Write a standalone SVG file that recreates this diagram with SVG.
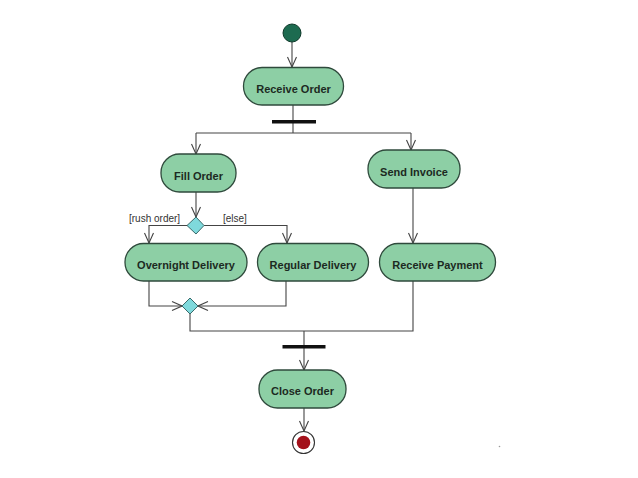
<svg xmlns="http://www.w3.org/2000/svg" width="638" height="478" viewBox="0 0 638 478">
<defs>
<style>
.act{fill:#8dcfa5;stroke:#2f4a3c;stroke-width:1.3}
.lbl{font-family:"Liberation Sans",Arial,sans-serif;font-weight:bold;font-size:11px;fill:#1c2a22;text-anchor:middle}
.grd{font-family:"Liberation Sans",Arial,sans-serif;font-size:10px;fill:#333}
.ln{fill:none;stroke:#444;stroke-width:1.1}
.bar{fill:#111}
.dia{fill:#7fd9dc;stroke:#3a6a6a;stroke-width:1}
</style>
<marker id="arr" viewBox="0 0 12 12" refX="11" refY="6" markerWidth="12" markerHeight="12" markerUnits="userSpaceOnUse" orient="auto">
<path d="M1,1.5 L11,6 L1,10.5" fill="none" stroke="#444" stroke-width="1.1"/>
</marker>
</defs>
<rect width="638" height="478" fill="#fff"/>
<g id="connectors">
<line class="ln" x1="292" y1="42" x2="292" y2="67" marker-end="url(#arr)"/>
<polyline class="ln" points="293,105 293,133"/>
<polyline class="ln" points="196,133 411,133"/>
<polyline class="ln" points="196,133 196,154" marker-end="url(#arr)"/>
<polyline class="ln" points="411,133 411,150" marker-end="url(#arr)"/>
<line class="ln" x1="196" y1="192" x2="196" y2="217" marker-end="url(#arr)"/>
<polyline class="ln" points="187,225.5 149,225.5 149,243" marker-end="url(#arr)"/>
<polyline class="ln" points="204,225.5 287,225.5 287,243" marker-end="url(#arr)"/>
<line class="ln" x1="413" y1="188" x2="413" y2="243" marker-end="url(#arr)"/>
<polyline class="ln" points="149,281 149,306 182,306" marker-end="url(#arr)"/>
<polyline class="ln" points="286,281 286,306 198,306" marker-end="url(#arr)"/>
<polyline class="ln" points="190,314 190,331 413,331 413,281"/>
<line class="ln" x1="304" y1="331" x2="304" y2="370" marker-end="url(#arr)"/>
<line class="ln" x1="304" y1="408" x2="304" y2="431" marker-end="url(#arr)"/>
</g>
<g id="start"><circle cx="292" cy="33" r="9" fill="#1d6b50" stroke="#0f3a2a" stroke-width="1"/></g>
<g id="receive-order"><rect class="act" x="243.5" y="67.5" width="100" height="37.5" rx="18.5"/><text class="lbl" x="293.5" y="92.5">Receive Order</text></g>
<g id="fork"><rect class="bar" x="272" y="120" width="44" height="3.5"/></g>
<g id="fill-order"><rect class="act" x="161" y="154" width="75" height="38" rx="18.5"/><text class="lbl" x="198.5" y="179.5">Fill Order</text></g>
<g id="send-invoice"><rect class="act" x="368" y="150" width="92" height="38" rx="18.5"/><text class="lbl" x="414" y="175.5">Send Invoice</text></g>
<g id="decision"><polygon class="dia" points="196,217 204,225.5 196,234 187,225.5"/></g>
<text class="grd" x="129" y="222">[rush order]</text>
<text class="grd" x="223" y="222">[else]</text>
<g id="overnight-delivery"><rect class="act" x="125" y="243.5" width="122" height="37.5" rx="18.5"/><text class="lbl" x="186" y="268.5">Overnight Delivery</text></g>
<g id="regular-delivery"><rect class="act" x="257.5" y="243.5" width="111" height="37.5" rx="18.5"/><text class="lbl" x="313" y="268.5">Regular Delivery</text></g>
<g id="receive-payment"><rect class="act" x="379.5" y="243.5" width="116" height="37.5" rx="18.5"/><text class="lbl" x="437.5" y="269">Receive Payment</text></g>
<g id="merge"><polygon class="dia" points="190,298 198,306 190,314 182,306"/></g>
<g id="join"><rect class="bar" x="282.5" y="345" width="43" height="3.5"/></g>
<g id="close-order"><rect class="act" x="259" y="370" width="87" height="38" rx="18.5"/><text class="lbl" x="302.5" y="395">Close Order</text></g>
<g id="end"><circle cx="303.5" cy="442.5" r="11" fill="#fff" stroke="#333" stroke-width="1.1"/><circle cx="303.5" cy="442.5" r="6.8" fill="#a3101a"/></g>
<circle cx="499.5" cy="446.5" r="0.8" fill="#999"/>
</svg>
